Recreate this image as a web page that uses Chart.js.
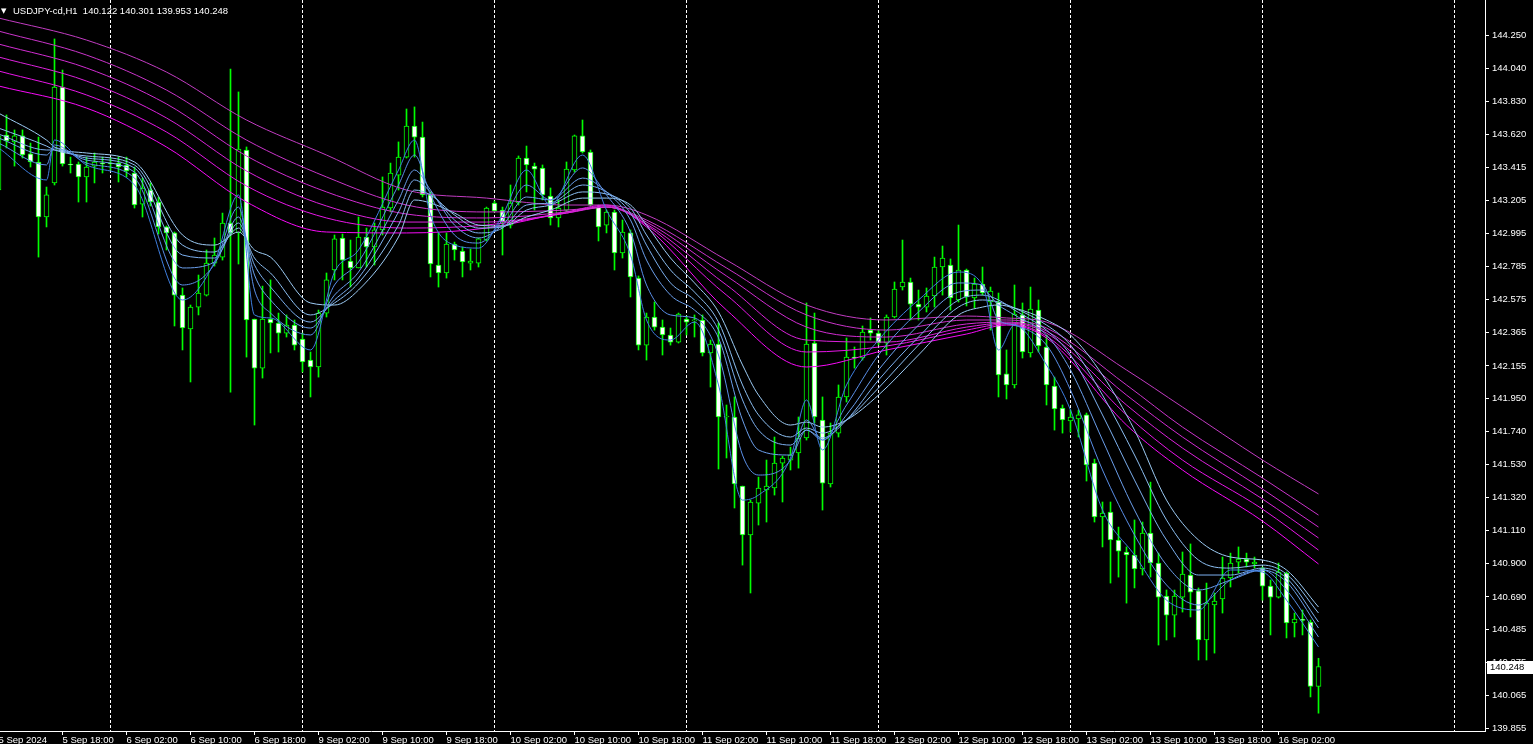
<!DOCTYPE html>
<html><head><meta charset="utf-8">
<script src="https://cdn.jsdelivr.net/npm/chart.js@4.4.1/dist/chart.umd.min.js"></script>
<style>html,body{margin:0;padding:0;background:#000;overflow:hidden}#wrap{width:1533px;height:744px;position:relative;background:#000}</style>
</head><body><div id="wrap"><canvas id="c" width="1533" height="744"></canvas></div>
<script>
const symbolTitle = 'USDJPY-cd,H1';

// H1 bars, bar 0 = 5 Sep 10:00 ... bar 165 = 16 Sep 07:00
const opens = [143.270,143.619,143.575,143.613,143.499,143.448,143.099,143.315,143.923,143.435,
143.435,143.353,143.422,143.441,143.441,143.441,143.429,143.378,143.181,143.270,
143.194,143.036,142.998,142.604,142.389,142.528,142.604,142.807,142.845,143.061,
142.998,143.524,142.452,142.141,142.452,142.427,142.363,142.414,142.325,142.192,
142.148,142.490,142.763,142.966,142.820,142.776,142.972,142.909,143.017,143.156,
143.365,143.479,143.676,143.606,143.239,142.795,142.744,142.928,142.883,142.807,
142.807,142.953,143.188,143.143,143.048,143.188,143.473,143.422,143.410,143.232,
143.093,143.143,143.397,143.613,143.511,143.162,143.048,143.131,142.871,142.998,
142.712,142.287,142.465,142.401,142.351,142.306,142.452,142.440,142.446,142.237,
142.294,141.831,141.831,141.393,141.083,141.285,141.368,141.381,141.539,141.558,
141.603,141.698,142.300,141.812,141.406,141.729,141.958,142.211,142.205,142.382,
142.363,142.300,142.465,142.655,142.687,142.547,142.528,142.598,142.782,142.795,
142.573,142.763,142.586,142.674,142.560,142.560,142.104,142.034,142.478,142.237,
142.509,142.275,142.027,141.888,141.806,141.818,141.844,141.539,141.197,141.228,
141.051,140.974,140.956,140.867,141.095,140.905,140.696,140.575,140.689,140.829,
140.728,140.417,140.639,140.677,140.810,140.911,140.930,140.899,140.873,140.759,
140.689,140.842,140.525,140.544,140.531,140.122];
const highs = [143.632,143.746,143.651,143.651,143.568,143.606,143.289,144.228,144.031,143.479,
143.448,143.479,143.505,143.479,143.473,143.479,143.479,143.416,143.346,143.315,
143.226,143.042,143.004,142.649,142.541,142.731,142.890,142.966,143.124,144.037,
143.892,143.543,142.452,142.661,142.700,142.490,142.478,142.446,142.363,142.243,
142.509,142.744,142.985,142.991,142.953,143.099,143.029,143.061,143.353,143.441,
143.575,143.784,143.797,143.701,143.258,142.998,142.998,142.940,142.909,142.896,
142.966,143.162,143.200,143.162,143.302,143.486,143.549,143.441,143.429,143.283,
143.207,143.448,143.619,143.714,143.524,143.175,143.143,143.143,143.080,143.017,
142.725,142.490,142.560,142.446,142.395,142.490,142.471,142.478,142.478,142.319,
142.427,141.907,141.958,141.393,141.304,141.450,141.558,141.704,141.583,141.640,
141.831,142.554,142.490,141.958,141.793,142.034,142.332,142.275,142.408,142.459,
142.382,142.478,142.687,142.953,142.712,142.636,142.649,142.845,142.915,142.833,
143.048,142.769,142.712,142.782,142.655,142.617,142.256,142.668,142.554,142.655,
142.573,142.351,142.084,141.907,141.875,141.875,141.856,141.564,141.292,141.292,
141.133,141.007,141.178,141.165,141.418,140.968,140.734,140.734,140.975,141.026,
140.747,140.778,140.715,140.943,140.968,141.007,140.968,140.943,140.880,140.797,
140.905,140.848,140.588,140.607,140.544,140.301];
const lows = [143.251,143.537,143.422,143.473,143.416,142.845,143.036,143.302,143.422,143.378,
143.194,143.194,143.315,143.378,143.397,143.321,143.353,143.156,143.099,143.169,
142.991,142.890,142.408,142.256,142.053,142.478,142.598,142.788,142.826,141.989,
142.801,142.211,141.780,142.078,142.237,142.243,142.338,142.256,142.116,141.958,
142.084,142.465,142.700,142.700,142.655,142.776,142.782,142.795,142.985,143.131,
143.270,143.473,143.479,143.226,142.719,142.655,142.712,142.826,142.719,142.763,
142.782,142.947,143.131,142.858,143.029,143.175,143.258,143.143,143.207,143.048,
143.036,143.131,143.384,143.505,143.169,142.947,142.998,142.763,142.839,142.592,
142.256,142.192,142.382,142.224,142.287,142.300,142.351,142.338,142.218,142.021,
141.501,141.571,141.254,140.892,140.715,141.146,141.165,141.336,141.292,141.495,
141.507,141.685,141.793,141.241,141.387,141.704,141.926,142.141,142.192,142.319,
142.287,142.224,142.459,142.636,142.446,142.446,142.497,142.528,142.604,142.509,
142.560,142.535,142.522,142.604,142.382,141.958,141.945,142.015,142.205,142.211,
142.243,141.907,141.748,141.729,141.736,141.704,141.425,141.165,141.007,140.778,
140.816,140.651,140.747,140.829,140.816,140.385,140.417,140.436,140.594,140.563,
140.290,140.290,140.334,140.588,140.753,140.842,140.880,140.873,140.670,140.449,
140.683,140.430,140.436,140.449,140.056,139.953];
const closes = [143.613,143.581,143.613,143.492,143.448,143.099,143.239,143.923,143.435,143.429,
143.353,143.416,143.448,143.435,143.435,143.416,143.391,143.175,143.283,143.194,
143.036,142.998,142.604,142.395,142.528,142.617,142.807,142.858,143.061,142.998,
143.530,142.446,142.141,142.452,142.427,142.363,142.414,142.287,142.180,142.148,
142.490,142.700,142.960,142.826,142.776,142.972,142.909,143.017,143.162,143.378,
143.479,143.676,143.606,143.239,142.801,142.744,142.928,142.890,142.814,142.820,
142.960,143.156,143.137,143.067,143.188,143.473,143.429,143.403,143.239,143.093,
143.156,143.403,143.613,143.511,143.175,143.036,143.131,142.871,143.004,142.719,
142.287,142.465,142.401,142.351,142.306,142.484,142.433,142.446,142.237,142.294,
141.831,141.837,141.406,141.083,141.292,141.381,141.393,141.539,141.571,141.590,
141.698,142.294,141.831,141.412,141.729,141.958,142.211,142.205,142.370,142.363,
142.300,142.465,142.642,142.687,142.547,142.528,142.598,142.782,142.839,142.586,
142.763,142.592,142.674,142.617,142.630,142.097,142.034,142.484,142.243,142.516,
142.281,142.034,141.882,141.812,141.831,141.844,141.527,141.197,141.222,141.051,
140.981,140.956,140.867,141.095,140.905,140.689,140.575,140.696,140.835,140.721,
140.417,140.651,140.664,140.810,140.905,140.930,140.911,140.911,140.759,140.689,
140.848,140.525,140.550,140.541,140.122,140.248];

// short moving averages (blue), read at these bars
const blueBars = [0,6,7,11,17,23,27,30,32,34,39,42,45,50,52,54,57,60,63,66,69,73,76,79,81,84,87,90,93,95,99,101,103,106,110,115,120,123,125,127,131,134,138,142,146,150,154,158,161,165];
const blue1 = [143.537,143.334,143.587,143.429,143.302,142.573,142.814,143.239,142.478,142.459,142.256,142.750,142.890,143.397,143.587,143.112,142.921,142.902,143.112,143.397,143.175,143.492,143.143,142.858,142.446,142.319,142.433,142.034,141.304,141.336,141.571,141.939,141.622,142.034,142.319,142.573,142.750,142.668,142.256,142.414,142.161,141.875,141.241,140.956,140.670,140.607,140.861,140.848,140.670,140.373];
const blue2 = [143.568,143.429,143.556,143.441,143.346,142.668,142.801,143.162,142.636,142.490,142.351,142.668,142.814,143.302,143.492,143.239,142.985,142.934,143.080,143.302,143.207,143.410,143.239,143.004,142.668,142.478,142.459,142.224,141.590,141.463,141.558,141.812,141.685,141.907,142.224,142.497,142.681,142.668,142.446,142.414,142.287,142.002,141.495,141.083,140.766,140.639,140.797,140.861,140.734,140.436];
const blue3 = [143.600,143.492,143.537,143.460,143.384,142.776,142.814,143.099,142.731,142.573,142.395,142.604,142.750,143.207,143.397,143.270,143.048,142.966,143.048,143.226,143.207,143.346,143.258,143.080,142.826,142.604,142.509,142.332,141.812,141.622,141.590,141.748,141.685,141.844,142.129,142.414,142.623,142.636,142.541,142.478,142.351,142.129,141.685,141.241,140.892,140.734,140.797,140.861,140.785,140.493];
const blue4 = [143.625,143.524,143.524,143.473,143.410,142.858,142.839,143.061,142.795,142.655,142.433,142.573,142.712,143.131,143.334,143.258,143.080,142.998,143.029,143.175,143.188,143.302,143.258,143.124,142.921,142.681,142.573,142.382,141.939,141.748,141.653,141.748,141.698,141.812,142.065,142.338,142.573,142.604,142.573,142.509,142.382,142.224,141.844,141.431,141.051,140.829,140.829,140.873,140.810,140.531];
const blue5 = [143.663,143.549,143.524,143.486,143.429,142.921,142.877,143.029,142.839,142.744,142.478,142.554,142.681,143.048,143.270,143.239,143.112,143.029,143.036,143.143,143.175,143.258,143.245,143.156,142.985,142.763,142.623,142.433,142.034,141.844,141.704,141.761,141.729,141.812,142.015,142.287,142.528,142.573,142.560,142.522,142.414,142.287,141.970,141.590,141.178,140.924,140.873,140.892,140.835,140.588];
const blue6 = [143.758,143.587,143.543,143.505,143.448,142.985,142.921,143.004,142.890,142.845,142.554,142.541,142.636,142.972,143.207,143.188,143.124,143.048,143.042,143.099,143.143,143.219,143.219,143.175,143.048,142.839,142.681,142.497,142.161,141.970,141.780,141.799,141.767,141.812,141.970,142.224,142.478,142.528,142.541,142.522,142.446,142.351,142.097,141.748,141.304,141.051,140.943,140.924,140.861,140.626];

// long moving averages (magenta), read at these bars
const magBars = [0,11,21,31,41,51,61,71,76,81,91,101,111,121,126,131,141,148,158,165];
const mag1 = [144.361,144.221,144.018,143.714,143.492,143.270,143.219,143.175,143.175,143.112,142.826,142.541,142.446,142.471,142.459,142.433,142.129,141.894,141.558,141.343];
const mag2 = [144.278,144.126,143.904,143.587,143.353,143.175,143.131,143.143,143.162,143.080,142.776,142.478,142.382,142.446,142.446,142.395,142.034,141.767,141.444,141.209];
const mag3 = [144.196,144.044,143.816,143.486,143.258,143.118,143.093,143.131,143.162,143.067,142.725,142.401,142.338,142.421,142.433,142.376,141.970,141.704,141.374,141.133];
const mag4 = [144.114,143.961,143.727,143.391,143.169,143.067,143.067,143.124,143.162,143.055,142.668,142.319,142.306,142.401,142.427,142.363,141.907,141.634,141.311,141.064];
const mag5 = [144.025,143.873,143.638,143.296,143.093,143.029,143.048,143.124,143.169,143.048,142.604,142.243,142.281,142.382,142.421,142.344,141.844,141.558,141.247,140.987];
const mag6 = [143.930,143.790,143.543,143.194,143.004,142.998,143.029,143.131,143.175,143.036,142.509,142.148,142.256,142.357,142.414,142.332,141.780,141.495,141.171,140.899];

// axis ticks
const timeTickBars = [0,8,16,24,32,40,48,56,64,72,80,88,96,104,112,120,128,136,144,152,160];
const timeTickLabels = ['5 Sep 2024','5 Sep 18:00','6 Sep 02:00','6 Sep 10:00','6 Sep 18:00','9 Sep 02:00','9 Sep 10:00','9 Sep 18:00','10 Sep 02:00','10 Sep 10:00','10 Sep 18:00','11 Sep 02:00','11 Sep 10:00','11 Sep 18:00','12 Sep 02:00','12 Sep 10:00','12 Sep 18:00','13 Sep 02:00','13 Sep 10:00','13 Sep 18:00','16 Sep 02:00'];
const dayStartBars = [14,38,62,86,110,134,158,182];
const priceTickLabels = ['144.250','144.040','143.830','143.620','143.415','143.205','142.995','142.785','142.575','142.365','142.155','141.950','141.740','141.530','141.320','141.110','140.900','140.690','140.485','140.275','140.065','139.855'];

const LIME = '#00ff00';
const FONTFAM = "'Liberation Sans', Arial, sans-serif";
const blueColors = ['#3f7fe0','#5a8fe8','#6b9fec','#7cb0f0','#8cbff2','#9ccbf4'];
const magColors = ['#c23cc2','#ca34ca','#d22cd2','#dc22dc','#e816e8','#f80af8'];

const bodies = opens.map((o, i) => ({x: i, y: [o, closes[i]]}));
const wicks = lows.map((l, i) => ({x: i, y: [l, highs[i]]}));
const mkLine = (bars, vals) => bars.map((b, j) => ({x: b, y: vals[j]}));

const datasets = [];
[blue1, blue2, blue3, blue4, blue5, blue6].forEach((arr, j) => datasets.push({
  type: 'line', data: mkLine(blueBars, arr), borderColor: blueColors[j], borderWidth: 1,
  pointRadius: 0, cubicInterpolationMode: 'monotone', order: 0
}));
[mag1, mag2, mag3, mag4, mag5, mag6].forEach((arr, j) => datasets.push({
  type: 'line', data: mkLine(magBars, arr), borderColor: magColors[j], borderWidth: 1,
  pointRadius: 0, cubicInterpolationMode: 'monotone', order: 1
}));
datasets.push({
  type: 'bar', data: bodies, barThickness: 5, grouped: false, borderWidth: 1, borderSkipped: false,
  borderColor: LIME, minBarLength: 1,
  backgroundColor: bodies.map((b, i) => closes[i] < opens[i] ? '#ffffff' : '#000000'), order: 2
});
datasets.push({
  type: 'bar', data: wicks, barThickness: 1, grouped: false, borderWidth: 0,
  backgroundColor: LIME, order: 3
});

const overlay = {
  id: 'overlay',
  afterDraw(chart) {
    const ctx = chart.ctx;
    const n = closes.length - 1;
    ctx.save();
    ctx.textBaseline = 'middle';
    ctx.fillStyle = '#ffffff';
    ctx.font = "7px 'DejaVu Sans'";
    ctx.fillText('\u25BC', 1, 11);
    ctx.font = '9.5px ' + FONTFAM;
    ctx.fillText(symbolTitle + '  ' + opens[n].toFixed(3) + ' ' + highs[n].toFixed(3) + ' ' + lows[n].toFixed(3) + ' ' + closes[n].toFixed(3), 13, 11);
    const y = chart.scales.y.getPixelForValue(closes[n]);
    ctx.fillStyle = '#ffffff';
    ctx.fillRect(1487, Math.round(y) - 6, 46, 13);
    ctx.fillStyle = '#000000';
    ctx.fillText(closes[n].toFixed(3), 1490, Math.round(y) + 0.5);
    ctx.restore();
  }
};

new Chart(document.getElementById('c'), {
  type: 'bar',
  data: {datasets},
  options: {
    responsive: false, animation: false, devicePixelRatio: 1,
    layout: {padding: 0},
    plugins: {legend: {display: false}, tooltip: {enabled: false}, title: {display: false}},
    scales: {
      x: {
        type: 'linear', position: 'bottom', min: 0.1875, max: 185.8125, offset: false,
        afterBuildTicks: (s) => {
          const t = timeTickBars.concat(dayStartBars).sort((a, b) => a - b);
          s.ticks = t.map(v => ({value: v}));
        },
        afterFit: (s) => { s.height = 13; s.paddingLeft = 0; s.paddingRight = 0; },
        ticks: {
          autoSkip: false, maxRotation: 0, minRotation: 0, align: 'start', padding: 0,
          color: '#ffffff', font: {family: FONTFAM, size: 9.5},
          callback: (v) => { const k = timeTickBars.indexOf(v); return k >= 0 ? timeTickLabels[k] : ''; }
        },
        grid: {
          offset: false, drawOnChartArea: true, drawTicks: true, tickLength: 4, lineWidth: 1,
          color: (c) => (c.tick && dayStartBars.includes(c.tick.value)) ? '#ffffff' : 'rgba(0,0,0,0)',
          tickColor: (c) => (c.tick && timeTickBars.includes(c.tick.value) && c.tick.value > 0) ? '#ffffff' : 'rgba(0,0,0,0)'
        },
        border: {display: true, color: '#ffffff', width: 1, dash: [3, 2]}
      },
      y: {
        type: 'linear', position: 'right', min: 139.840, max: 144.475,
        afterBuildTicks: (s) => { s.ticks = priceTickLabels.map(l => ({value: parseFloat(l)})).sort((a, b) => a.value - b.value); },
        afterFit: (s) => { s.width = 48; s.paddingTop = 0; s.paddingBottom = 0; },
        ticks: {
          padding: 3, color: '#ffffff', font: {family: FONTFAM, size: 9.5},
          callback: (v) => { const k = priceTickLabels.findIndex(l => Math.abs(parseFloat(l) - v) < 1e-6); return k >= 0 ? priceTickLabels[k] : ''; }
        },
        grid: {drawOnChartArea: false, drawTicks: true, tickLength: 4, tickColor: '#ffffff', color: '#ffffff'},
        border: {display: true, color: '#ffffff', width: 1}
      }
    }
  },
  plugins: [overlay]
});
</script>
</body></html>
